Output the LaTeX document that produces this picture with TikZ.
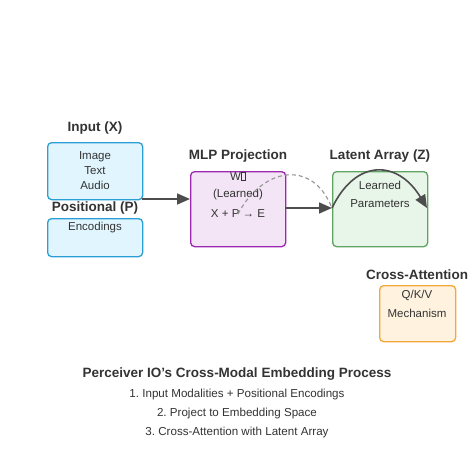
\documentclass[tikz,border=0pt]{standalone}
\usepackage{fontspec}
\setmainfont{Liberation Sans}
\usetikzlibrary{arrows.meta}
\definecolor{txt}{HTML}{333333}
\definecolor{arr}{HTML}{4D4D4D}
\definecolor{bluef}{HTML}{E1F5FE}\definecolor{blued}{HTML}{2A9FD6}
\definecolor{purf}{HTML}{F3E5F5}\definecolor{purd}{HTML}{9C27B0}
\definecolor{grnf}{HTML}{E8F5E9}\definecolor{grnd}{HTML}{5FA463}
\definecolor{orgf}{HTML}{FFF3E0}\definecolor{orgd}{HTML}{F5A83A}
\tikzset{
  x=1pt,y=-1pt,
  boxstyle/.style={draw=#1, line width=1.3pt, rounded corners=4pt, anchor=north west, inner sep=0pt},
  ttl/.style={font=\bfseries\fontsize{13.5}{15}\selectfont, text=txt},
  lbl/.style={font=\fontsize{11.5}{13}\selectfont, text=txt},
  foot/.style={font=\fontsize{11.6}{13}\selectfont, text=txt},
  conn/.style={draw=arr, line width=1.6pt, -{Triangle[length=13pt,width=11pt]}},
}
\newcommand{\tofu}{\tikz[baseline=0pt,x=1pt,y=1pt]\draw[line width=0.4pt] (0.5,0) rectangle (5,8);}
\frenchspacing
\begin{document}
\begin{tikzpicture}
\useasboundingbox[fill=white] (0,0) rectangle (474,474);
% boxes
\node[boxstyle=blued, fill=bluef, minimum width=95pt, minimum height=57pt] (inp) at (47,142) {};
\node[boxstyle=blued, fill=bluef, minimum width=95pt, minimum height=38pt] (pos) at (47,218) {};
\node[boxstyle=purd, fill=purf, minimum width=95pt, minimum height=75pt] (mlp) at (190,171) {};
\node[boxstyle=grnd, fill=grnf, minimum width=95pt, minimum height=75pt] (lat) at (332,171) {};
\node[boxstyle=orgd, fill=orgf, minimum width=76pt, minimum height=56pt] (ca) at (379,285) {};
% titles
\node[ttl] (tinp) at (95,128) {Input (X)};
\node[ttl] (tpos) at (95,208) {Positional (P)};
\node[ttl] (tmlp) at (238,156) {MLP Projection};
\node[ttl] (tlat) at (380,156) {Latent Array (Z)};
\node[ttl] (tca) at (417,275) {Cross-Attention};
% box texts
\node[lbl] (i1) at (95,157) {Image};
\node[lbl] (i2) at (95,171) {Text};
\node[lbl] (i3) at (95,185) {Audio};
\node[lbl] (p1) at (95,228) {Encodings};
\node[lbl] (m1) at (238,176) {W\tofu};
\node[lbl] (m2) at (238,195) {(Learned)};
\node[lbl] (m3) at (238,214) {X + P → E};
\node[lbl] (l1) at (380,185) {Learned};
\node[lbl] (l2) at (380,204) {Parameters};
\node[lbl] (c1) at (417,295) {Q/K/V};
\node[lbl] (c2) at (417,313) {Mechanism};
% connectors
\coordinate (a1) at (142,199);
\coordinate (a2) at (190,199);
\draw[conn] (a1) -- (a2);
\coordinate (b1) at (285,208);
\coordinate (b2) at (332,208);
\draw[conn] (b1) -- (b2);
\coordinate (dstart) at (238,214);
\draw[draw=arr!60, line width=1.1pt, dash pattern=on 4pt off 3pt] (dstart) .. controls (262,168) and (312,158) .. (b2);
\coordinate (c2e) at (427,208);
\draw[conn] (b2) .. controls (356,158) and (398,160) .. (c2e);
% footer
\node[ttl] (f0) at (237,374) {Perceiver IO's Cross-Modal Embedding Process};
\node[foot] (f1) at (237,394) {1. Input Modalities + Positional Encodings};
\node[foot] (f2) at (237,413) {2. Project to Embedding Space};
\node[foot] (f3) at (237,432) {3. Cross-Attention with Latent Array};
\end{tikzpicture}
\end{document}
